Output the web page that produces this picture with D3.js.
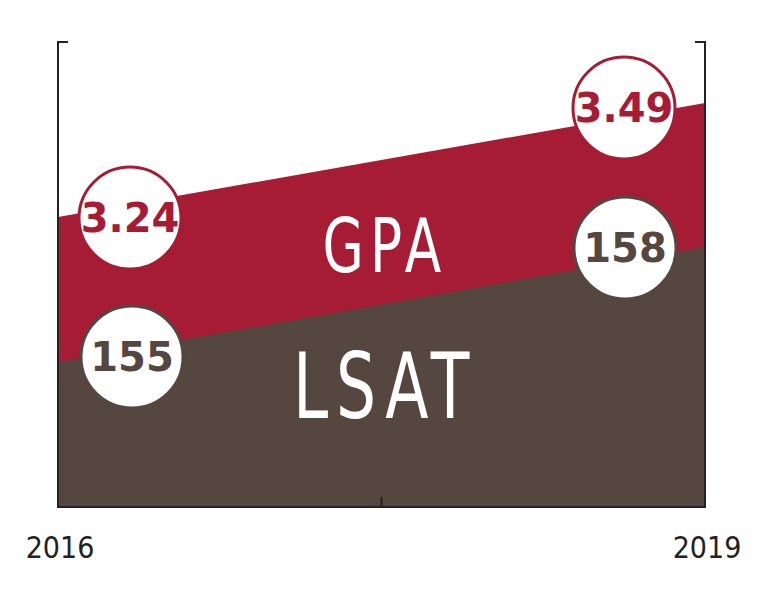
<!DOCTYPE html>
<html><head><meta charset="utf-8">
<script src="https://cdn.jsdelivr.net/npm/d3@7"></script>
<style>body{margin:0;background:#fff}</style></head>
<body><svg id="c" width="768" height="591"></svg>
<script>
const years = [2016, 2019];
const gpa = [3.24, 3.49];
const lsat = [155, 158];
const gpaLabels = ["3.24", "3.49"];
const lsatLabels = ["155", "158"];
const RED = "#a61c35", BROWN = "#554640";
const svg = d3.select("#c");
const x = d3.scaleLinear().domain([2016, 2019]).range([58, 705]);
const yG = d3.scaleLinear().domain([3.24, 3.49]).range([217, 103]);
const yL = d3.scaleLinear().domain([155, 158]).range([362, 247]);
const bottom = 507;
const idx = [0, 1];
svg.append("path").datum(idx).attr("fill", RED)
  .attr("d", d3.area().x(i => x(years[i])).y0(bottom).y1(i => yG(gpa[i])));
svg.append("path").datum(idx).attr("fill", BROWN)
  .attr("d", d3.area().x(i => x(years[i])).y0(bottom).y1(i => yL(lsat[i])));
// frame
const fr = svg.append("g").attr("stroke", "#222").attr("stroke-width", 2).attr("fill", "none");
fr.append("path").attr("d", `M68,42H58V${bottom}H705V42H695`);
fr.append("line").attr("x1", x(2017.5)).attr("x2", x(2017.5)).attr("y1", bottom).attr("y2", bottom - 10);
// big labels
const fam = "'DejaVu Sans Condensed','DejaVu Sans',sans-serif";
svg.append("text").attr("x", 385).attr("y", 272).attr("text-anchor", "middle")
  .attr("fill", "#fff").attr("font-family", fam).attr("font-size", 74).attr("letter-spacing", 8)
  .attr("transform", "translate(385,272) scale(0.8,1) translate(-385,-272)").text("GPA");
svg.append("text").attr("x", 385).attr("y", 418).attr("text-anchor", "middle")
  .attr("fill", "#fff").attr("font-family", fam).attr("font-size", 90).attr("letter-spacing", 10)
  .attr("transform", "translate(385,418) scale(0.78,1) translate(-385,-418)").text("LSAT");
// bubbles
const bub = [
  {cx: 130, v: yG(gpa[0]) + 1, t: gpaLabels[0], c: RED},
  {cx: 624, v: yG(gpa[1]) + 5, t: gpaLabels[1], c: RED},
  {cx: 132, v: yL(lsat[0]) - 5, t: lsatLabels[0], c: BROWN},
  {cx: 625, v: yL(lsat[1]) + 1, t: lsatLabels[1], c: BROWN}
];
const g = svg.selectAll(".b").data(bub).join("g");
g.append("circle").attr("cx", d => d.cx).attr("cy", d => d.v).attr("r", 51)
  .attr("fill", "#fff").attr("stroke", d => d.c).attr("stroke-width", 3);
g.append("text").attr("x", d => d.cx).attr("y", d => d.v + 14).attr("text-anchor", "middle")
  .attr("fill", d => d.c).attr("font-family", "'DejaVu Sans',sans-serif").attr("font-weight", "bold")
  .attr("font-size", 40).text(d => d.t);
// years
svg.selectAll(".yr").data(years).join("text")
  .attr("x", d => x(d) + (d === 2016 ? 2 : 2)).attr("y", 558).attr("text-anchor", "middle")
  .attr("font-family", fam).attr("font-size", 30).attr("fill", "#222").text(d => d);
</script></body></html>
